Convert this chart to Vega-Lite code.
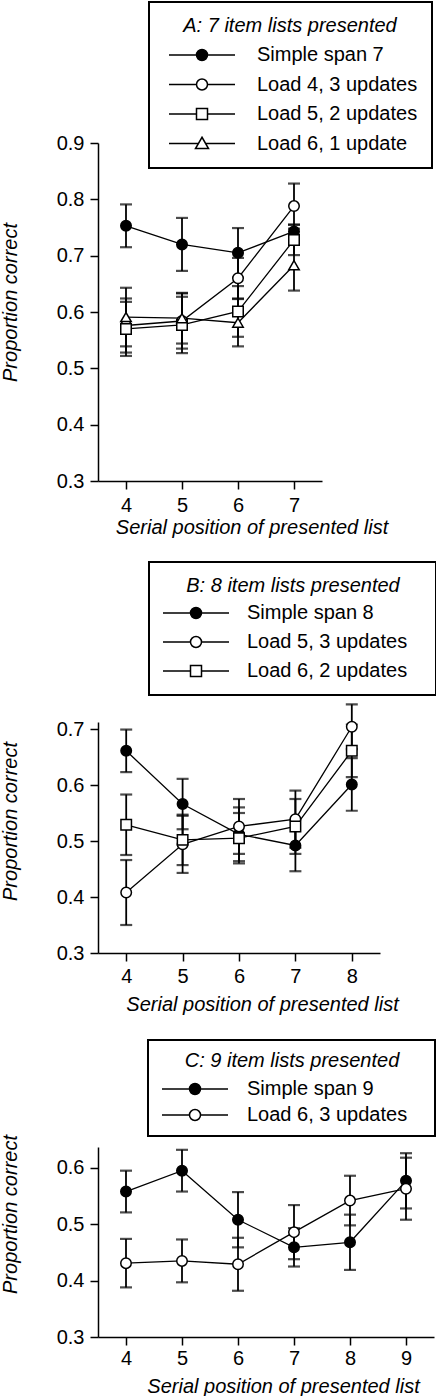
{
  "$schema": "https://vega.github.io/schema/vega-lite/v6.json",
  "background": "white",
  "padding": {"left": 0, "top": 1, "right": 0, "bottom": 0},
  "autosize": {"type": "pad"},
  "datasets": {
    "a": [
      {"series": "Simple span 7", "pos": 4, "p": 0.753, "lo": 0.715, "hi": 0.791},
      {"series": "Simple span 7", "pos": 5, "p": 0.720, "lo": 0.673, "hi": 0.767},
      {"series": "Simple span 7", "pos": 6, "p": 0.705, "lo": 0.661, "hi": 0.749},
      {"series": "Simple span 7", "pos": 7, "p": 0.743, "lo": 0.731, "hi": 0.755},
      {"series": "Load 4, 3 updates", "pos": 4, "p": 0.576, "lo": 0.528, "hi": 0.624},
      {"series": "Load 4, 3 updates", "pos": 5, "p": 0.584, "lo": 0.535, "hi": 0.633},
      {"series": "Load 4, 3 updates", "pos": 6, "p": 0.660, "lo": 0.624, "hi": 0.696},
      {"series": "Load 4, 3 updates", "pos": 7, "p": 0.788, "lo": 0.748, "hi": 0.828},
      {"series": "Load 5, 2 updates", "pos": 4, "p": 0.570, "lo": 0.522, "hi": 0.618},
      {"series": "Load 5, 2 updates", "pos": 5, "p": 0.577, "lo": 0.527, "hi": 0.627},
      {"series": "Load 5, 2 updates", "pos": 6, "p": 0.601, "lo": 0.556, "hi": 0.646},
      {"series": "Load 5, 2 updates", "pos": 7, "p": 0.728, "lo": 0.701, "hi": 0.755},
      {"series": "Load 6, 1 update", "pos": 4, "p": 0.591, "lo": 0.539, "hi": 0.643},
      {"series": "Load 6, 1 update", "pos": 5, "p": 0.589, "lo": 0.544, "hi": 0.634},
      {"series": "Load 6, 1 update", "pos": 6, "p": 0.581, "lo": 0.539, "hi": 0.623},
      {"series": "Load 6, 1 update", "pos": 7, "p": 0.683, "lo": 0.638, "hi": 0.728}
    ],
    "b": [
      {"series": "Simple span 8", "pos": 4, "p": 0.661, "lo": 0.623, "hi": 0.699},
      {"series": "Simple span 8", "pos": 5, "p": 0.566, "lo": 0.521, "hi": 0.611},
      {"series": "Simple span 8", "pos": 6, "p": 0.512, "lo": 0.464, "hi": 0.560},
      {"series": "Simple span 8", "pos": 7, "p": 0.492, "lo": 0.446, "hi": 0.538},
      {"series": "Simple span 8", "pos": 8, "p": 0.601, "lo": 0.554, "hi": 0.648},
      {"series": "Load 5, 3 updates", "pos": 4, "p": 0.408, "lo": 0.350, "hi": 0.466},
      {"series": "Load 5, 3 updates", "pos": 5, "p": 0.494, "lo": 0.443, "hi": 0.545},
      {"series": "Load 5, 3 updates", "pos": 6, "p": 0.526, "lo": 0.477, "hi": 0.575},
      {"series": "Load 5, 3 updates", "pos": 7, "p": 0.539, "lo": 0.488, "hi": 0.590},
      {"series": "Load 5, 3 updates", "pos": 8, "p": 0.704, "lo": 0.664, "hi": 0.744},
      {"series": "Load 6, 2 updates", "pos": 4, "p": 0.529, "lo": 0.475, "hi": 0.583},
      {"series": "Load 6, 2 updates", "pos": 5, "p": 0.502, "lo": 0.457, "hi": 0.547},
      {"series": "Load 6, 2 updates", "pos": 6, "p": 0.505, "lo": 0.460, "hi": 0.550},
      {"series": "Load 6, 2 updates", "pos": 7, "p": 0.526, "lo": 0.477, "hi": 0.575},
      {"series": "Load 6, 2 updates", "pos": 8, "p": 0.661, "lo": 0.614, "hi": 0.708}
    ],
    "c": [
      {"series": "Simple span 9", "pos": 4, "p": 0.558, "lo": 0.521, "hi": 0.595},
      {"series": "Simple span 9", "pos": 5, "p": 0.595, "lo": 0.558, "hi": 0.632},
      {"series": "Simple span 9", "pos": 6, "p": 0.508, "lo": 0.459, "hi": 0.557},
      {"series": "Simple span 9", "pos": 7, "p": 0.459, "lo": 0.425, "hi": 0.493},
      {"series": "Simple span 9", "pos": 8, "p": 0.468, "lo": 0.419, "hi": 0.517},
      {"series": "Simple span 9", "pos": 9, "p": 0.577, "lo": 0.528, "hi": 0.626},
      {"series": "Load 6, 3 updates", "pos": 4, "p": 0.431, "lo": 0.388, "hi": 0.474},
      {"series": "Load 6, 3 updates", "pos": 5, "p": 0.435, "lo": 0.397, "hi": 0.473},
      {"series": "Load 6, 3 updates", "pos": 6, "p": 0.429, "lo": 0.382, "hi": 0.476},
      {"series": "Load 6, 3 updates", "pos": 7, "p": 0.486, "lo": 0.438, "hi": 0.534},
      {"series": "Load 6, 3 updates", "pos": 8, "p": 0.542, "lo": 0.498, "hi": 0.586},
      {"series": "Load 6, 3 updates", "pos": 9, "p": 0.563, "lo": 0.508, "hi": 0.618}
    ]
  },
  "spacing": 24,
  "resolve": {
    "scale": {"x": "independent", "y": "independent", "shape": "independent", "fill": "independent", "stroke": "independent"},
    "legend": {"shape": "independent", "fill": "independent", "stroke": "independent"}
  },
  "vconcat": [
    {
      "width": 224,
      "height": 338,
      "data": {"name": "a"},
      "encoding": {
        "x": {"field": "pos", "type": "quantitative", "scale": {"domain": [3.5, 7.5], "nice": false, "zero": false},
              "axis": {"values": [4, 5, 6, 7], "format": "d", "title": "Serial position of presented list", "titleX": 153.5, "labelPadding": 6, "titlePadding": 2}},
        "y": {"field": "p", "type": "quantitative", "scale": {"domain": [0.3, 0.9], "nice": false, "zero": false},
              "axis": {"values": [0.3, 0.4, 0.5, 0.6, 0.7, 0.8, 0.9], "format": ".1f", "title": "Proportion correct", "titleY": 159, "titlePadding": 36, "labelPadding": 6}}
      },
      "layer": [
        {"mark": {"type": "rule", "color": "black", "strokeWidth": 1.8},
         "encoding": {
           "y": {"field": "lo", "type": "quantitative", "scale": {"domain": [0.3, 0.9], "nice": false, "zero": false},
                 "axis": {"values": [0.3, 0.4, 0.5, 0.6, 0.7, 0.8, 0.9], "format": ".1f", "title": "Proportion correct", "titleY": 159, "titlePadding": 36, "labelPadding": 6}},
           "y2": {"field": "hi"}}},
        {"mark": {"type": "tick", "orient": "horizontal", "color": "black", "size": 12, "thickness": 2.2},
         "encoding": {
           "y": {"field": "lo", "type": "quantitative", "scale": {"domain": [0.3, 0.9], "nice": false, "zero": false},
                 "axis": {"values": [0.3, 0.4, 0.5, 0.6, 0.7, 0.8, 0.9], "format": ".1f", "title": "Proportion correct", "titleY": 159, "titlePadding": 36, "labelPadding": 6}}}},
        {"mark": {"type": "tick", "orient": "horizontal", "color": "black", "size": 12, "thickness": 2.2},
         "encoding": {
           "y": {"field": "hi", "type": "quantitative", "scale": {"domain": [0.3, 0.9], "nice": false, "zero": false},
                 "axis": {"values": [0.3, 0.4, 0.5, 0.6, 0.7, 0.8, 0.9], "format": ".1f", "title": "Proportion correct", "titleY": 159, "titlePadding": 36, "labelPadding": 6}}}},
        {"mark": {"type": "line", "color": "black", "strokeWidth": 1.3},
         "encoding": {"detail": {"field": "series"}}},
        {"transform": [{"filter": "datum.series === 'Simple span 7'"}],
         "mark": {"type": "point", "shape": "circle", "filled": true, "fill": "black", "stroke": "black", "strokeWidth": 1.5, "size": 110, "opacity": 1}},
        {"transform": [{"filter": "datum.series === 'Load 4, 3 updates'"}],
         "mark": {"type": "point", "shape": "circle", "filled": true, "fill": "white", "stroke": "black", "strokeWidth": 1.5, "size": 110, "opacity": 1}},
        {"transform": [{"filter": "datum.series === 'Load 5, 2 updates'"}],
         "mark": {"type": "point", "shape": "square", "filled": true, "fill": "white", "stroke": "black", "strokeWidth": 1.5, "size": 110, "opacity": 1}},
        {"transform": [{"filter": "datum.series === 'Load 6, 1 update'"}],
         "mark": {"type": "point", "shape": "triangle-up", "filled": true, "fill": "white", "stroke": "black", "strokeWidth": 1.5, "size": 110, "opacity": 1}},
        {"mark": {"type": "point", "filled": true, "opacity": 0, "size": 100},
         "encoding": {
           "shape": {"field": "series", "type": "nominal",
                     "scale": {"domain": ["Simple span 7", "Load 4, 3 updates", "Load 5, 2 updates", "Load 6, 1 update"],
                               "range": ["M-6.6,0H-1.1M1.1,0H6.6M-1.1,0A1.1,1.1 0 1,1 1.1,0A1.1,1.1 0 1,1 -1.1,0Z", "M-6.6,0H-1.1M1.1,0H6.6M-1.1,0A1.1,1.1 0 1,1 1.1,0A1.1,1.1 0 1,1 -1.1,0Z", "M-6.6,0H-1.1M1.1,0H6.6M-1.1,-1.1H1.1V1.1H-1.1Z", "M-6.6,0H-0.7M0.7,0H6.6M0,-1.25L1.3,1H-1.3Z"]},
                     "legend": {"title": "A: 7 item lists presented", "orient": "none", "direction": "vertical", "legendX": 51, "legendY": -141, "padding": 14, "titlePadding": 9, "rowPadding": 9.5, "symbolOffset": 29, "labelOffset": 45, "symbolOpacity": 1}},
           "fill": {"field": "series", "type": "nominal",
                    "scale": {"domain": ["Simple span 7", "Load 4, 3 updates", "Load 5, 2 updates", "Load 6, 1 update"], "range": ["black", "white", "white", "white"]},
                    "legend": {"title": "A: 7 item lists presented", "orient": "none", "direction": "vertical", "legendX": 51, "legendY": -141, "padding": 14, "titlePadding": 9, "rowPadding": 9.5, "symbolOffset": 29, "labelOffset": 45, "symbolOpacity": 1}},
           "stroke": {"field": "series", "type": "nominal",
                      "scale": {"domain": ["Simple span 7", "Load 4, 3 updates", "Load 5, 2 updates", "Load 6, 1 update"], "range": ["black", "black", "black", "black"]},
                      "legend": {"title": "A: 7 item lists presented", "orient": "none", "direction": "vertical", "legendX": 51, "legendY": -141, "padding": 14, "titlePadding": 9, "rowPadding": 9.5, "symbolOffset": 29, "labelOffset": 45, "symbolOpacity": 1}}}}
      ]
    },
    {
      "width": 282,
      "height": 231,
      "data": {"name": "b"},
      "encoding": {
        "x": {"field": "pos", "type": "quantitative", "scale": {"domain": [3.5, 8.5], "nice": false, "zero": false},
              "axis": {"values": [4, 5, 6, 7, 8], "format": "d", "title": "Serial position of presented list", "titleX": 164, "labelPadding": 5.5, "titlePadding": 8}},
        "y": {"field": "p", "type": "quantitative", "scale": {"domain": [0.3, 0.7125], "nice": false, "zero": false},
              "axis": {"values": [0.3, 0.4, 0.5, 0.6, 0.7], "format": ".1f", "title": "Proportion correct", "titleY": 99, "titlePadding": 36, "labelPadding": 6}}
      },
      "layer": [
        {"mark": {"type": "rule", "color": "black", "strokeWidth": 1.8},
         "encoding": {
           "y": {"field": "lo", "type": "quantitative", "scale": {"domain": [0.3, 0.7125], "nice": false, "zero": false},
                 "axis": {"values": [0.3, 0.4, 0.5, 0.6, 0.7], "format": ".1f", "title": "Proportion correct", "titleY": 99, "titlePadding": 36, "labelPadding": 6}},
           "y2": {"field": "hi"}}},
        {"mark": {"type": "tick", "orient": "horizontal", "color": "black", "size": 12, "thickness": 2.2},
         "encoding": {
           "y": {"field": "lo", "type": "quantitative", "scale": {"domain": [0.3, 0.7125], "nice": false, "zero": false},
                 "axis": {"values": [0.3, 0.4, 0.5, 0.6, 0.7], "format": ".1f", "title": "Proportion correct", "titleY": 99, "titlePadding": 36, "labelPadding": 6}}}},
        {"mark": {"type": "tick", "orient": "horizontal", "color": "black", "size": 12, "thickness": 2.2},
         "encoding": {
           "y": {"field": "hi", "type": "quantitative", "scale": {"domain": [0.3, 0.7125], "nice": false, "zero": false},
                 "axis": {"values": [0.3, 0.4, 0.5, 0.6, 0.7], "format": ".1f", "title": "Proportion correct", "titleY": 99, "titlePadding": 36, "labelPadding": 6}}}},
        {"mark": {"type": "line", "color": "black", "strokeWidth": 1.3},
         "encoding": {"detail": {"field": "series"}}},
        {"transform": [{"filter": "datum.series === 'Simple span 8'"}],
         "mark": {"type": "point", "shape": "circle", "filled": true, "fill": "black", "stroke": "black", "strokeWidth": 1.5, "size": 110, "opacity": 1}},
        {"transform": [{"filter": "datum.series === 'Load 5, 3 updates'"}],
         "mark": {"type": "point", "shape": "circle", "filled": true, "fill": "white", "stroke": "black", "strokeWidth": 1.5, "size": 110, "opacity": 1}},
        {"transform": [{"filter": "datum.series === 'Load 6, 2 updates'"}],
         "mark": {"type": "point", "shape": "square", "filled": true, "fill": "white", "stroke": "black", "strokeWidth": 1.5, "size": 110, "opacity": 1}},
        {"mark": {"type": "point", "filled": true, "opacity": 0, "size": 100},
         "encoding": {
           "shape": {"field": "series", "type": "nominal",
                     "scale": {"domain": ["Simple span 8", "Load 5, 3 updates", "Load 6, 2 updates"],
                               "range": ["M-6.6,0H-1.1M1.1,0H6.6M-1.1,0A1.1,1.1 0 1,1 1.1,0A1.1,1.1 0 1,1 -1.1,0ZM44.6,0", "M-6.6,0H-1.1M1.1,0H6.6M-1.1,0A1.1,1.1 0 1,1 1.1,0A1.1,1.1 0 1,1 -1.1,0ZM44.6,0", "M-6.6,0H-1.1M1.1,0H6.6M-1.1,-1.1H1.1V1.1H-1.1ZM44.6,0"]},
                     "legend": {"title": "B: 8 item lists presented", "orient": "none", "direction": "vertical", "legendX": 51, "legendY": -160, "padding": 14, "titlePadding": 7, "rowPadding": 9, "symbolOffset": 23, "labelOffset": 41, "symbolOpacity": 1}},
           "fill": {"field": "series", "type": "nominal",
                    "scale": {"domain": ["Simple span 8", "Load 5, 3 updates", "Load 6, 2 updates"], "range": ["black", "white", "white"]},
                    "legend": {"title": "B: 8 item lists presented", "orient": "none", "direction": "vertical", "legendX": 51, "legendY": -160, "padding": 14, "titlePadding": 7, "rowPadding": 9, "symbolOffset": 23, "labelOffset": 41, "symbolOpacity": 1}},
           "stroke": {"field": "series", "type": "nominal",
                      "scale": {"domain": ["Simple span 8", "Load 5, 3 updates", "Load 6, 2 updates"], "range": ["black", "black", "black"]},
                      "legend": {"title": "B: 8 item lists presented", "orient": "none", "direction": "vertical", "legendX": 51, "legendY": -160, "padding": 14, "titlePadding": 7, "rowPadding": 9, "symbolOffset": 23, "labelOffset": 41, "symbolOpacity": 1}}}}
      ]
    },
    {
      "width": 336,
      "height": 190,
      "data": {"name": "c"},
      "encoding": {
        "x": {"field": "pos", "type": "quantitative", "scale": {"domain": [3.5, 9.5], "nice": false, "zero": false},
              "axis": {"values": [4, 5, 6, 7, 8, 9], "format": "d", "title": "Serial position of presented list", "titleX": 185, "labelPadding": 3.5, "titlePadding": 8}},
        "y": {"field": "p", "type": "quantitative", "scale": {"domain": [0.3, 0.637], "nice": false, "zero": false},
              "axis": {"values": [0.3, 0.4, 0.5, 0.6], "format": ".1f", "title": "Proportion correct", "titleY": 67, "titlePadding": 36, "labelPadding": 6}}
      },
      "layer": [
        {"mark": {"type": "rule", "color": "black", "strokeWidth": 1.8},
         "encoding": {
           "y": {"field": "lo", "type": "quantitative", "scale": {"domain": [0.3, 0.637], "nice": false, "zero": false},
                 "axis": {"values": [0.3, 0.4, 0.5, 0.6], "format": ".1f", "title": "Proportion correct", "titleY": 67, "titlePadding": 36, "labelPadding": 6}},
           "y2": {"field": "hi"}}},
        {"mark": {"type": "tick", "orient": "horizontal", "color": "black", "size": 12, "thickness": 2.2},
         "encoding": {
           "y": {"field": "lo", "type": "quantitative", "scale": {"domain": [0.3, 0.637], "nice": false, "zero": false},
                 "axis": {"values": [0.3, 0.4, 0.5, 0.6], "format": ".1f", "title": "Proportion correct", "titleY": 67, "titlePadding": 36, "labelPadding": 6}}}},
        {"mark": {"type": "tick", "orient": "horizontal", "color": "black", "size": 12, "thickness": 2.2},
         "encoding": {
           "y": {"field": "hi", "type": "quantitative", "scale": {"domain": [0.3, 0.637], "nice": false, "zero": false},
                 "axis": {"values": [0.3, 0.4, 0.5, 0.6], "format": ".1f", "title": "Proportion correct", "titleY": 67, "titlePadding": 36, "labelPadding": 6}}}},
        {"mark": {"type": "line", "color": "black", "strokeWidth": 1.3},
         "encoding": {"detail": {"field": "series"}}},
        {"transform": [{"filter": "datum.series === 'Simple span 9'"}],
         "mark": {"type": "point", "shape": "circle", "filled": true, "fill": "black", "stroke": "black", "strokeWidth": 1.5, "size": 110, "opacity": 1}},
        {"transform": [{"filter": "datum.series === 'Load 6, 3 updates'"}],
         "mark": {"type": "point", "shape": "circle", "filled": true, "fill": "white", "stroke": "black", "strokeWidth": 1.5, "size": 110, "opacity": 1}},
        {"mark": {"type": "point", "filled": true, "opacity": 0, "size": 100},
         "encoding": {
           "shape": {"field": "series", "type": "nominal",
                     "scale": {"domain": ["Simple span 9", "Load 6, 3 updates"],
                               "range": ["M-6.6,0H-1.1M1.1,0H6.6M-1.1,0A1.1,1.1 0 1,1 1.1,0A1.1,1.1 0 1,1 -1.1,0ZM45.2,0", "M-6.6,0H-1.1M1.1,0H6.6M-1.1,0A1.1,1.1 0 1,1 1.1,0A1.1,1.1 0 1,1 -1.1,0ZM45.2,0"]},
                     "legend": {"title": "C: 9 item lists presented", "orient": "none", "direction": "vertical", "legendX": 50, "legendY": -107, "padding": 11, "titlePadding": 8, "rowPadding": 6, "symbolOffset": 26, "labelOffset": 42, "symbolOpacity": 1}},
           "fill": {"field": "series", "type": "nominal",
                    "scale": {"domain": ["Simple span 9", "Load 6, 3 updates"], "range": ["black", "white"]},
                    "legend": {"title": "C: 9 item lists presented", "orient": "none", "direction": "vertical", "legendX": 50, "legendY": -107, "padding": 11, "titlePadding": 8, "rowPadding": 6, "symbolOffset": 26, "labelOffset": 42, "symbolOpacity": 1}},
           "stroke": {"field": "series", "type": "nominal",
                      "scale": {"domain": ["Simple span 9", "Load 6, 3 updates"], "range": ["black", "black"]},
                      "legend": {"title": "C: 9 item lists presented", "orient": "none", "direction": "vertical", "legendX": 50, "legendY": -107, "padding": 11, "titlePadding": 8, "rowPadding": 6, "symbolOffset": 26, "labelOffset": 42, "symbolOpacity": 1}}}}
      ]
    }
  ],
  "config": {
    "view": {"stroke": null},
    "font": "Liberation Sans",
    "axis": {
      "labelFont": "Liberation Sans", "titleFont": "Liberation Sans",
      "labelFontSize": 20, "titleFontSize": 20,
      "titleFontStyle": "italic", "titleFontWeight": "normal",
      "labelColor": "black", "titleColor": "black",
      "domainColor": "black", "tickColor": "black",
      "domainWidth": 1.5, "tickWidth": 1.5, "tickSize": 8,
      "grid": false, "labelFlush": false
    },
    "legend": {
      "titleFont": "Liberation Sans", "labelFont": "Liberation Sans",
      "titleFontSize": 20, "labelFontSize": 20,
      "titleFontStyle": "italic", "titleFontWeight": "normal",
      "titleColor": "black", "labelColor": "black",
      "strokeColor": "black", "strokeWidth": 2, "fillColor": "white",
      "symbolSize": 100, "symbolStrokeWidth": 1.5,
      "labelLimit": 300, "titleLimit": 400, "titleAnchor": "middle"
    }
  }
}
